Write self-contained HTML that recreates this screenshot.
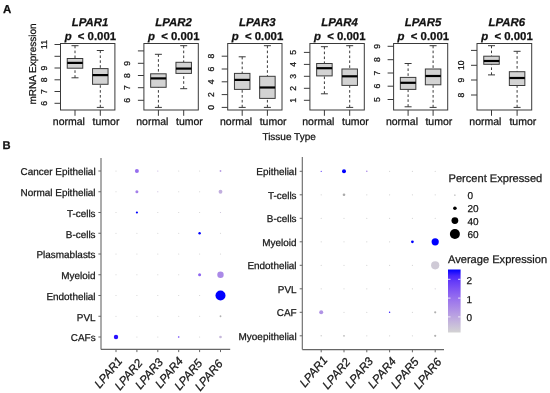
<!DOCTYPE html>
<html><head><meta charset="utf-8"><style>
html,body{margin:0;padding:0;background:#fff;width:550px;height:393px;overflow:hidden}
svg{display:block;font-family:"Liberation Sans", sans-serif;text-rendering:geometricPrecision;will-change:transform}
text{stroke:#111;stroke-width:0.25px}
</style></head><body>
<svg width="550" height="393" viewBox="0 0 550 393">
<rect width="550" height="393" fill="#fff"/>
<text x="3.1" y="12.9" font-size="11.5" font-weight="bold" fill="#111">A</text>
<text x="2.6" y="148.8" font-size="11.2" font-weight="bold" fill="#111">B</text>
<text transform="translate(36.1,64) rotate(-90)" text-anchor="middle" font-size="10" fill="#111">mRNA Expression</text>
<text x="289.1" y="140.2" text-anchor="middle" font-size="10" fill="#111">Tissue Type</text>
<text x="90.10" y="26.4" text-anchor="middle" font-size="11.4" font-weight="bold" font-style="italic" fill="#111">LPAR1</text>
<text x="90.40" y="39.6" text-anchor="middle" font-size="11.4" font-weight="bold" fill="#111"><tspan font-style="italic">p</tspan><tspan dx="3"> &lt; 0.001</tspan></text>
<rect x="60.50" y="43.5" width="54.40" height="66.50" fill="none" stroke="#3a3a3a" stroke-width="1"/>
<line x1="75.00" y1="110.0" x2="75.00" y2="115.8" stroke="#3a3a3a" stroke-width="1"/>
<line x1="100.30" y1="110.0" x2="100.30" y2="115.8" stroke="#3a3a3a" stroke-width="1"/>
<text x="68.90" y="124.6" text-anchor="middle" font-size="10.5" fill="#111">normal</text>
<text x="106.00" y="124.6" text-anchor="middle" font-size="10.5" fill="#111">tumor</text>
<line x1="54.50" y1="44.5" x2="60.50" y2="44.5" stroke="#3a3a3a" stroke-width="1"/>
<text transform="translate(47.00,44.5) rotate(-90)" text-anchor="middle" font-size="8.6" fill="#111">11</text>
<line x1="54.50" y1="56.3" x2="60.50" y2="56.3" stroke="#3a3a3a" stroke-width="1"/>
<line x1="54.50" y1="68.0" x2="60.50" y2="68.0" stroke="#3a3a3a" stroke-width="1"/>
<text transform="translate(47.00,68.0) rotate(-90)" text-anchor="middle" font-size="8.6" fill="#111">9</text>
<line x1="54.50" y1="79.8" x2="60.50" y2="79.8" stroke="#3a3a3a" stroke-width="1"/>
<text transform="translate(47.00,79.8) rotate(-90)" text-anchor="middle" font-size="8.6" fill="#111">8</text>
<line x1="54.50" y1="91.5" x2="60.50" y2="91.5" stroke="#3a3a3a" stroke-width="1"/>
<text transform="translate(47.00,91.5) rotate(-90)" text-anchor="middle" font-size="8.6" fill="#111">7</text>
<line x1="54.50" y1="103.3" x2="60.50" y2="103.3" stroke="#3a3a3a" stroke-width="1"/>
<text transform="translate(47.00,103.3) rotate(-90)" text-anchor="middle" font-size="8.6" fill="#111">6</text>
<line x1="75.00" y1="45.7" x2="75.00" y2="58.5" stroke="#3a3a3a" stroke-width="1" stroke-dasharray="2.6 2.3"/>
<line x1="75.00" y1="77.8" x2="75.00" y2="68.2" stroke="#3a3a3a" stroke-width="1" stroke-dasharray="2.6 2.3"/>
<line x1="71.50" y1="45.7" x2="78.50" y2="45.7" stroke="#3a3a3a" stroke-width="1"/>
<line x1="71.50" y1="77.8" x2="78.50" y2="77.8" stroke="#3a3a3a" stroke-width="1"/>
<rect x="67.25" y="58.5" width="15.5" height="9.70" fill="#d3d3d3" stroke="#3a3a3a" stroke-width="1"/>
<line x1="67.25" y1="62.9" x2="82.75" y2="62.9" stroke="#000" stroke-width="2.2"/>
<line x1="100.30" y1="50.5" x2="100.30" y2="68.6" stroke="#3a3a3a" stroke-width="1" stroke-dasharray="2.6 2.3"/>
<line x1="100.30" y1="107.4" x2="100.30" y2="84.3" stroke="#3a3a3a" stroke-width="1" stroke-dasharray="2.6 2.3"/>
<line x1="96.80" y1="50.5" x2="103.80" y2="50.5" stroke="#3a3a3a" stroke-width="1"/>
<line x1="96.80" y1="107.4" x2="103.80" y2="107.4" stroke="#3a3a3a" stroke-width="1"/>
<rect x="92.55" y="68.6" width="15.5" height="15.70" fill="#d3d3d3" stroke="#3a3a3a" stroke-width="1"/>
<line x1="92.55" y1="75.1" x2="108.05" y2="75.1" stroke="#000" stroke-width="2.2"/>
<text x="173.50" y="26.4" text-anchor="middle" font-size="11.4" font-weight="bold" font-style="italic" fill="#111">LPAR2</text>
<text x="173.80" y="39.6" text-anchor="middle" font-size="11.4" font-weight="bold" fill="#111"><tspan font-style="italic">p</tspan><tspan dx="3"> &lt; 0.001</tspan></text>
<rect x="143.90" y="43.5" width="54.40" height="66.50" fill="none" stroke="#3a3a3a" stroke-width="1"/>
<line x1="158.40" y1="110.0" x2="158.40" y2="115.8" stroke="#3a3a3a" stroke-width="1"/>
<line x1="183.70" y1="110.0" x2="183.70" y2="115.8" stroke="#3a3a3a" stroke-width="1"/>
<text x="152.30" y="124.6" text-anchor="middle" font-size="10.5" fill="#111">normal</text>
<text x="189.40" y="124.6" text-anchor="middle" font-size="10.5" fill="#111">tumor</text>
<line x1="137.90" y1="50.9" x2="143.90" y2="50.9" stroke="#3a3a3a" stroke-width="1"/>
<line x1="137.90" y1="63.3" x2="143.90" y2="63.3" stroke="#3a3a3a" stroke-width="1"/>
<text transform="translate(130.40,63.3) rotate(-90)" text-anchor="middle" font-size="8.6" fill="#111">9</text>
<line x1="137.90" y1="75.5" x2="143.90" y2="75.5" stroke="#3a3a3a" stroke-width="1"/>
<text transform="translate(130.40,75.5) rotate(-90)" text-anchor="middle" font-size="8.6" fill="#111">8</text>
<line x1="137.90" y1="87.7" x2="143.90" y2="87.7" stroke="#3a3a3a" stroke-width="1"/>
<text transform="translate(130.40,87.7) rotate(-90)" text-anchor="middle" font-size="8.6" fill="#111">7</text>
<line x1="137.90" y1="100.3" x2="143.90" y2="100.3" stroke="#3a3a3a" stroke-width="1"/>
<text transform="translate(130.40,100.3) rotate(-90)" text-anchor="middle" font-size="8.6" fill="#111">6</text>
<line x1="158.40" y1="54.3" x2="158.40" y2="73.8" stroke="#3a3a3a" stroke-width="1" stroke-dasharray="2.6 2.3"/>
<line x1="158.40" y1="107.4" x2="158.40" y2="87.3" stroke="#3a3a3a" stroke-width="1" stroke-dasharray="2.6 2.3"/>
<line x1="154.90" y1="54.3" x2="161.90" y2="54.3" stroke="#3a3a3a" stroke-width="1"/>
<line x1="154.90" y1="107.4" x2="161.90" y2="107.4" stroke="#3a3a3a" stroke-width="1"/>
<rect x="150.65" y="73.8" width="15.5" height="13.50" fill="#d3d3d3" stroke="#3a3a3a" stroke-width="1"/>
<line x1="150.65" y1="78.4" x2="166.15" y2="78.4" stroke="#000" stroke-width="2.2"/>
<line x1="183.70" y1="45.7" x2="183.70" y2="62.3" stroke="#3a3a3a" stroke-width="1" stroke-dasharray="2.6 2.3"/>
<line x1="183.70" y1="88.7" x2="183.70" y2="73.4" stroke="#3a3a3a" stroke-width="1" stroke-dasharray="2.6 2.3"/>
<line x1="180.20" y1="45.7" x2="187.20" y2="45.7" stroke="#3a3a3a" stroke-width="1"/>
<line x1="180.20" y1="88.7" x2="187.20" y2="88.7" stroke="#3a3a3a" stroke-width="1"/>
<rect x="175.95" y="62.3" width="15.5" height="11.10" fill="#d3d3d3" stroke="#3a3a3a" stroke-width="1"/>
<line x1="175.95" y1="68.6" x2="191.45" y2="68.6" stroke="#000" stroke-width="2.2"/>
<text x="257.25" y="26.4" text-anchor="middle" font-size="11.4" font-weight="bold" font-style="italic" fill="#111">LPAR3</text>
<text x="257.55" y="39.6" text-anchor="middle" font-size="11.4" font-weight="bold" fill="#111"><tspan font-style="italic">p</tspan><tspan dx="3"> &lt; 0.001</tspan></text>
<rect x="227.70" y="43.5" width="54.30" height="66.50" fill="none" stroke="#3a3a3a" stroke-width="1"/>
<line x1="242.20" y1="110.0" x2="242.20" y2="115.8" stroke="#3a3a3a" stroke-width="1"/>
<line x1="267.40" y1="110.0" x2="267.40" y2="115.8" stroke="#3a3a3a" stroke-width="1"/>
<text x="236.10" y="124.6" text-anchor="middle" font-size="10.5" fill="#111">normal</text>
<text x="273.10" y="124.6" text-anchor="middle" font-size="10.5" fill="#111">tumor</text>
<line x1="221.70" y1="56.2" x2="227.70" y2="56.2" stroke="#3a3a3a" stroke-width="1"/>
<text transform="translate(214.20,56.2) rotate(-90)" text-anchor="middle" font-size="8.6" fill="#111">8</text>
<line x1="221.70" y1="69.0" x2="227.70" y2="69.0" stroke="#3a3a3a" stroke-width="1"/>
<text transform="translate(214.20,69.0) rotate(-90)" text-anchor="middle" font-size="8.6" fill="#111">6</text>
<line x1="221.70" y1="81.8" x2="227.70" y2="81.8" stroke="#3a3a3a" stroke-width="1"/>
<text transform="translate(214.20,81.8) rotate(-90)" text-anchor="middle" font-size="8.6" fill="#111">4</text>
<line x1="221.70" y1="94.6" x2="227.70" y2="94.6" stroke="#3a3a3a" stroke-width="1"/>
<text transform="translate(214.20,94.6) rotate(-90)" text-anchor="middle" font-size="8.6" fill="#111">2</text>
<line x1="221.70" y1="107.4" x2="227.70" y2="107.4" stroke="#3a3a3a" stroke-width="1"/>
<text transform="translate(214.20,107.4) rotate(-90)" text-anchor="middle" font-size="8.6" fill="#111">0</text>
<line x1="242.20" y1="56.8" x2="242.20" y2="73.4" stroke="#3a3a3a" stroke-width="1" stroke-dasharray="2.6 2.3"/>
<line x1="242.20" y1="107.4" x2="242.20" y2="89.4" stroke="#3a3a3a" stroke-width="1" stroke-dasharray="2.6 2.3"/>
<line x1="238.70" y1="56.8" x2="245.70" y2="56.8" stroke="#3a3a3a" stroke-width="1"/>
<line x1="238.70" y1="107.4" x2="245.70" y2="107.4" stroke="#3a3a3a" stroke-width="1"/>
<rect x="234.45" y="73.4" width="15.5" height="16.00" fill="#d3d3d3" stroke="#3a3a3a" stroke-width="1"/>
<line x1="234.45" y1="79.9" x2="249.95" y2="79.9" stroke="#000" stroke-width="2.2"/>
<line x1="267.40" y1="45.7" x2="267.40" y2="76.3" stroke="#3a3a3a" stroke-width="1" stroke-dasharray="2.6 2.3"/>
<line x1="267.40" y1="107.4" x2="267.40" y2="98.4" stroke="#3a3a3a" stroke-width="1" stroke-dasharray="2.6 2.3"/>
<line x1="263.90" y1="45.7" x2="270.90" y2="45.7" stroke="#3a3a3a" stroke-width="1"/>
<line x1="263.90" y1="107.4" x2="270.90" y2="107.4" stroke="#3a3a3a" stroke-width="1"/>
<rect x="259.65" y="76.3" width="15.5" height="22.10" fill="#d3d3d3" stroke="#3a3a3a" stroke-width="1"/>
<line x1="259.65" y1="87.5" x2="275.15" y2="87.5" stroke="#000" stroke-width="2.2"/>
<text x="339.50" y="26.4" text-anchor="middle" font-size="11.4" font-weight="bold" font-style="italic" fill="#111">LPAR4</text>
<text x="339.80" y="39.6" text-anchor="middle" font-size="11.4" font-weight="bold" fill="#111"><tspan font-style="italic">p</tspan><tspan dx="3"> &lt; 0.001</tspan></text>
<rect x="309.90" y="43.5" width="54.40" height="66.50" fill="none" stroke="#3a3a3a" stroke-width="1"/>
<line x1="324.40" y1="110.0" x2="324.40" y2="115.8" stroke="#3a3a3a" stroke-width="1"/>
<line x1="349.70" y1="110.0" x2="349.70" y2="115.8" stroke="#3a3a3a" stroke-width="1"/>
<text x="318.30" y="124.6" text-anchor="middle" font-size="10.5" fill="#111">normal</text>
<text x="355.40" y="124.6" text-anchor="middle" font-size="10.5" fill="#111">tumor</text>
<line x1="303.90" y1="52.4" x2="309.90" y2="52.4" stroke="#3a3a3a" stroke-width="1"/>
<text transform="translate(296.40,52.4) rotate(-90)" text-anchor="middle" font-size="8.6" fill="#111">5</text>
<line x1="303.90" y1="64.4" x2="309.90" y2="64.4" stroke="#3a3a3a" stroke-width="1"/>
<text transform="translate(296.40,64.4) rotate(-90)" text-anchor="middle" font-size="8.6" fill="#111">4</text>
<line x1="303.90" y1="76.3" x2="309.90" y2="76.3" stroke="#3a3a3a" stroke-width="1"/>
<text transform="translate(296.40,76.3) rotate(-90)" text-anchor="middle" font-size="8.6" fill="#111">3</text>
<line x1="303.90" y1="88.3" x2="309.90" y2="88.3" stroke="#3a3a3a" stroke-width="1"/>
<text transform="translate(296.40,88.3) rotate(-90)" text-anchor="middle" font-size="8.6" fill="#111">2</text>
<line x1="303.90" y1="100.3" x2="309.90" y2="100.3" stroke="#3a3a3a" stroke-width="1"/>
<text transform="translate(296.40,100.3) rotate(-90)" text-anchor="middle" font-size="8.6" fill="#111">1</text>
<line x1="324.40" y1="46.7" x2="324.40" y2="63.5" stroke="#3a3a3a" stroke-width="1" stroke-dasharray="2.6 2.3"/>
<line x1="324.40" y1="93.8" x2="324.40" y2="75.9" stroke="#3a3a3a" stroke-width="1" stroke-dasharray="2.6 2.3"/>
<line x1="320.90" y1="46.7" x2="327.90" y2="46.7" stroke="#3a3a3a" stroke-width="1"/>
<line x1="320.90" y1="93.8" x2="327.90" y2="93.8" stroke="#3a3a3a" stroke-width="1"/>
<rect x="316.65" y="63.5" width="15.5" height="12.40" fill="#d3d3d3" stroke="#3a3a3a" stroke-width="1"/>
<line x1="316.65" y1="68.2" x2="332.15" y2="68.2" stroke="#000" stroke-width="2.2"/>
<line x1="349.70" y1="45.7" x2="349.70" y2="69.0" stroke="#3a3a3a" stroke-width="1" stroke-dasharray="2.6 2.3"/>
<line x1="349.70" y1="107.4" x2="349.70" y2="85.4" stroke="#3a3a3a" stroke-width="1" stroke-dasharray="2.6 2.3"/>
<line x1="346.20" y1="45.7" x2="353.20" y2="45.7" stroke="#3a3a3a" stroke-width="1"/>
<line x1="346.20" y1="107.4" x2="353.20" y2="107.4" stroke="#3a3a3a" stroke-width="1"/>
<rect x="341.95" y="69.0" width="15.5" height="16.40" fill="#d3d3d3" stroke="#3a3a3a" stroke-width="1"/>
<line x1="341.95" y1="76.3" x2="357.45" y2="76.3" stroke="#000" stroke-width="2.2"/>
<text x="423.05" y="26.4" text-anchor="middle" font-size="11.4" font-weight="bold" font-style="italic" fill="#111">LPAR5</text>
<text x="423.35" y="39.6" text-anchor="middle" font-size="11.4" font-weight="bold" fill="#111"><tspan font-style="italic">p</tspan><tspan dx="3"> &lt; 0.001</tspan></text>
<rect x="393.60" y="43.5" width="54.10" height="66.50" fill="none" stroke="#3a3a3a" stroke-width="1"/>
<line x1="408.10" y1="110.0" x2="408.10" y2="115.8" stroke="#3a3a3a" stroke-width="1"/>
<line x1="433.10" y1="110.0" x2="433.10" y2="115.8" stroke="#3a3a3a" stroke-width="1"/>
<text x="402.00" y="124.6" text-anchor="middle" font-size="10.5" fill="#111">normal</text>
<text x="438.80" y="124.6" text-anchor="middle" font-size="10.5" fill="#111">tumor</text>
<line x1="387.60" y1="46.3" x2="393.60" y2="46.3" stroke="#3a3a3a" stroke-width="1"/>
<text transform="translate(380.10,46.3) rotate(-90)" text-anchor="middle" font-size="8.6" fill="#111">9</text>
<line x1="387.60" y1="59.7" x2="393.60" y2="59.7" stroke="#3a3a3a" stroke-width="1"/>
<text transform="translate(380.10,59.7) rotate(-90)" text-anchor="middle" font-size="8.6" fill="#111">8</text>
<line x1="387.60" y1="73.0" x2="393.60" y2="73.0" stroke="#3a3a3a" stroke-width="1"/>
<text transform="translate(380.10,73.0) rotate(-90)" text-anchor="middle" font-size="8.6" fill="#111">7</text>
<line x1="387.60" y1="86.2" x2="393.60" y2="86.2" stroke="#3a3a3a" stroke-width="1"/>
<text transform="translate(380.10,86.2) rotate(-90)" text-anchor="middle" font-size="8.6" fill="#111">6</text>
<line x1="387.60" y1="99.5" x2="393.60" y2="99.5" stroke="#3a3a3a" stroke-width="1"/>
<text transform="translate(380.10,99.5) rotate(-90)" text-anchor="middle" font-size="8.6" fill="#111">5</text>
<line x1="408.10" y1="63.5" x2="408.10" y2="77.4" stroke="#3a3a3a" stroke-width="1" stroke-dasharray="2.6 2.3"/>
<line x1="408.10" y1="106.8" x2="408.10" y2="89.4" stroke="#3a3a3a" stroke-width="1" stroke-dasharray="2.6 2.3"/>
<line x1="404.60" y1="63.5" x2="411.60" y2="63.5" stroke="#3a3a3a" stroke-width="1"/>
<line x1="404.60" y1="106.8" x2="411.60" y2="106.8" stroke="#3a3a3a" stroke-width="1"/>
<rect x="400.35" y="77.4" width="15.5" height="12.00" fill="#d3d3d3" stroke="#3a3a3a" stroke-width="1"/>
<line x1="400.35" y1="82.8" x2="415.85" y2="82.8" stroke="#000" stroke-width="2.2"/>
<line x1="433.10" y1="45.7" x2="433.10" y2="69.0" stroke="#3a3a3a" stroke-width="1" stroke-dasharray="2.6 2.3"/>
<line x1="433.10" y1="107.4" x2="433.10" y2="84.8" stroke="#3a3a3a" stroke-width="1" stroke-dasharray="2.6 2.3"/>
<line x1="429.60" y1="45.7" x2="436.60" y2="45.7" stroke="#3a3a3a" stroke-width="1"/>
<line x1="429.60" y1="107.4" x2="436.60" y2="107.4" stroke="#3a3a3a" stroke-width="1"/>
<rect x="425.35" y="69.0" width="15.5" height="15.80" fill="#d3d3d3" stroke="#3a3a3a" stroke-width="1"/>
<line x1="425.35" y1="76.0" x2="440.85" y2="76.0" stroke="#000" stroke-width="2.2"/>
<text x="506.75" y="26.4" text-anchor="middle" font-size="11.4" font-weight="bold" font-style="italic" fill="#111">LPAR6</text>
<text x="507.05" y="39.6" text-anchor="middle" font-size="11.4" font-weight="bold" fill="#111"><tspan font-style="italic">p</tspan><tspan dx="3"> &lt; 0.001</tspan></text>
<rect x="477.00" y="43.5" width="54.70" height="66.50" fill="none" stroke="#3a3a3a" stroke-width="1"/>
<line x1="491.50" y1="110.0" x2="491.50" y2="115.8" stroke="#3a3a3a" stroke-width="1"/>
<line x1="517.10" y1="110.0" x2="517.10" y2="115.8" stroke="#3a3a3a" stroke-width="1"/>
<text x="485.40" y="124.6" text-anchor="middle" font-size="10.5" fill="#111">normal</text>
<text x="522.80" y="124.6" text-anchor="middle" font-size="10.5" fill="#111">tumor</text>
<line x1="471.00" y1="50.4" x2="477.00" y2="50.4" stroke="#3a3a3a" stroke-width="1"/>
<line x1="471.00" y1="65.3" x2="477.00" y2="65.3" stroke="#3a3a3a" stroke-width="1"/>
<text transform="translate(463.50,65.3) rotate(-90)" text-anchor="middle" font-size="8.6" fill="#111">10</text>
<line x1="471.00" y1="80.0" x2="477.00" y2="80.0" stroke="#3a3a3a" stroke-width="1"/>
<text transform="translate(463.50,80.0) rotate(-90)" text-anchor="middle" font-size="8.6" fill="#111">9</text>
<line x1="471.00" y1="95.0" x2="477.00" y2="95.0" stroke="#3a3a3a" stroke-width="1"/>
<text transform="translate(463.50,95.0) rotate(-90)" text-anchor="middle" font-size="8.6" fill="#111">8</text>
<line x1="491.50" y1="45.7" x2="491.50" y2="56.2" stroke="#3a3a3a" stroke-width="1" stroke-dasharray="2.6 2.3"/>
<line x1="491.50" y1="74.9" x2="491.50" y2="64.3" stroke="#3a3a3a" stroke-width="1" stroke-dasharray="2.6 2.3"/>
<line x1="488.00" y1="45.7" x2="495.00" y2="45.7" stroke="#3a3a3a" stroke-width="1"/>
<line x1="488.00" y1="74.9" x2="495.00" y2="74.9" stroke="#3a3a3a" stroke-width="1"/>
<rect x="483.75" y="56.2" width="15.5" height="8.10" fill="#d3d3d3" stroke="#3a3a3a" stroke-width="1"/>
<line x1="483.75" y1="61.0" x2="499.25" y2="61.0" stroke="#000" stroke-width="2.2"/>
<line x1="517.10" y1="51.3" x2="517.10" y2="71.7" stroke="#3a3a3a" stroke-width="1" stroke-dasharray="2.6 2.3"/>
<line x1="517.10" y1="107.4" x2="517.10" y2="85.5" stroke="#3a3a3a" stroke-width="1" stroke-dasharray="2.6 2.3"/>
<line x1="513.60" y1="51.3" x2="520.60" y2="51.3" stroke="#3a3a3a" stroke-width="1"/>
<line x1="513.60" y1="107.4" x2="520.60" y2="107.4" stroke="#3a3a3a" stroke-width="1"/>
<rect x="509.35" y="71.7" width="15.5" height="13.80" fill="#d3d3d3" stroke="#3a3a3a" stroke-width="1"/>
<line x1="509.35" y1="78.0" x2="524.85" y2="78.0" stroke="#000" stroke-width="2.2"/>
<line x1="101.0" y1="157.9" x2="101.0" y2="349.4" stroke="#666" stroke-width="1.1"/>
<line x1="101.0" y1="349.4" x2="230.2" y2="349.4" stroke="#666" stroke-width="1.1"/>
<line x1="98.40" y1="171.00" x2="101.0" y2="171.00" stroke="#666" stroke-width="1"/>
<text x="95.6" y="175.40" text-anchor="end" font-size="9.95" fill="#1a1a1a">Cancer Epithelial</text>
<line x1="98.40" y1="191.75" x2="101.0" y2="191.75" stroke="#666" stroke-width="1"/>
<text x="95.6" y="196.15" text-anchor="end" font-size="9.95" fill="#1a1a1a">Normal Epithelial</text>
<line x1="98.40" y1="212.50" x2="101.0" y2="212.50" stroke="#666" stroke-width="1"/>
<text x="95.6" y="216.90" text-anchor="end" font-size="9.95" fill="#1a1a1a">T-cells</text>
<line x1="98.40" y1="233.25" x2="101.0" y2="233.25" stroke="#666" stroke-width="1"/>
<text x="95.6" y="237.65" text-anchor="end" font-size="9.95" fill="#1a1a1a">B-cells</text>
<line x1="98.40" y1="254.00" x2="101.0" y2="254.00" stroke="#666" stroke-width="1"/>
<text x="95.6" y="258.40" text-anchor="end" font-size="9.95" fill="#1a1a1a">Plasmablasts</text>
<line x1="98.40" y1="274.75" x2="101.0" y2="274.75" stroke="#666" stroke-width="1"/>
<text x="95.6" y="279.15" text-anchor="end" font-size="9.95" fill="#1a1a1a">Myeloid</text>
<line x1="98.40" y1="295.50" x2="101.0" y2="295.50" stroke="#666" stroke-width="1"/>
<text x="95.6" y="299.90" text-anchor="end" font-size="9.95" fill="#1a1a1a">Endothelial</text>
<line x1="98.40" y1="316.25" x2="101.0" y2="316.25" stroke="#666" stroke-width="1"/>
<text x="95.6" y="320.65" text-anchor="end" font-size="9.95" fill="#1a1a1a">PVL</text>
<line x1="98.40" y1="337.00" x2="101.0" y2="337.00" stroke="#666" stroke-width="1"/>
<text x="95.6" y="341.40" text-anchor="end" font-size="9.95" fill="#1a1a1a">CAFs</text>
<line x1="116.00" y1="349.4" x2="116.00" y2="352.10" stroke="#666" stroke-width="1"/>
<text transform="translate(123.00,361.20) scale(1,1.0) rotate(-50)" text-anchor="end" font-size="11.7" font-style="italic" fill="#1a1a1a">LPAR1</text>
<line x1="136.90" y1="349.4" x2="136.90" y2="352.10" stroke="#666" stroke-width="1"/>
<text transform="translate(143.20,363.20) scale(1,1.0) rotate(-50)" text-anchor="end" font-size="11.7" font-style="italic" fill="#1a1a1a">LPAR2</text>
<line x1="157.80" y1="349.4" x2="157.80" y2="352.10" stroke="#666" stroke-width="1"/>
<text transform="translate(163.70,362.40) scale(1,1.0) rotate(-50)" text-anchor="end" font-size="11.7" font-style="italic" fill="#1a1a1a">LPAR3</text>
<line x1="178.70" y1="349.4" x2="178.70" y2="352.10" stroke="#666" stroke-width="1"/>
<text transform="translate(183.70,361.20) scale(1,1.0) rotate(-50)" text-anchor="end" font-size="11.7" font-style="italic" fill="#1a1a1a">LPAR4</text>
<line x1="199.60" y1="349.4" x2="199.60" y2="352.10" stroke="#666" stroke-width="1"/>
<text transform="translate(203.00,363.40) scale(1,1.0) rotate(-50)" text-anchor="end" font-size="11.7" font-style="italic" fill="#1a1a1a">LPAR5</text>
<line x1="220.50" y1="349.4" x2="220.50" y2="352.10" stroke="#666" stroke-width="1"/>
<text transform="translate(223.40,364.00) scale(1,1.0) rotate(-50)" text-anchor="end" font-size="11.7" font-style="italic" fill="#1a1a1a">LPAR6</text>
<circle cx="116.00" cy="171.00" r="0.6" fill="#d3d3d3"/>
<circle cx="136.90" cy="171.00" r="2.0" fill="#966eee"/>
<circle cx="157.80" cy="171.00" r="0.6" fill="#c1aede"/>
<circle cx="178.70" cy="171.00" r="0.6" fill="#d3d3d3"/>
<circle cx="199.60" cy="171.00" r="0.6" fill="#d3d3d3"/>
<circle cx="220.50" cy="171.00" r="0.9" fill="#b69ce3"/>
<circle cx="116.00" cy="191.75" r="0.6" fill="#d3d3d3"/>
<circle cx="136.90" cy="191.75" r="1.5" fill="#a480ea"/>
<circle cx="157.80" cy="191.75" r="0.6" fill="#c6b7db"/>
<circle cx="178.70" cy="191.75" r="0.6" fill="#d3d3d3"/>
<circle cx="199.60" cy="191.75" r="0.6" fill="#d3d3d3"/>
<circle cx="220.50" cy="191.75" r="1.9" fill="#c1aede"/>
<circle cx="116.00" cy="212.50" r="0.6" fill="#d3d3d3"/>
<circle cx="136.90" cy="212.50" r="1.1" fill="#0000ff"/>
<circle cx="157.80" cy="212.50" r="0.6" fill="#d3d3d3"/>
<circle cx="178.70" cy="212.50" r="0.6" fill="#d3d3d3"/>
<circle cx="199.60" cy="212.50" r="0.6" fill="#d3d3d3"/>
<circle cx="220.50" cy="212.50" r="0.6" fill="#cac1d9"/>
<circle cx="116.00" cy="233.25" r="0.6" fill="#d3d3d3"/>
<circle cx="136.90" cy="233.25" r="0.6" fill="#d3d3d3"/>
<circle cx="157.80" cy="233.25" r="0.6" fill="#d3d3d3"/>
<circle cx="178.70" cy="233.25" r="0.6" fill="#d3d3d3"/>
<circle cx="199.60" cy="233.25" r="1.2" fill="#0000ff"/>
<circle cx="220.50" cy="233.25" r="0.6" fill="#d3d3d3"/>
<circle cx="116.00" cy="254.00" r="0.6" fill="#d3d3d3"/>
<circle cx="136.90" cy="254.00" r="0.6" fill="#d3d3d3"/>
<circle cx="157.80" cy="254.00" r="0.6" fill="#d3d3d3"/>
<circle cx="178.70" cy="254.00" r="0.6" fill="#d3d3d3"/>
<circle cx="199.60" cy="254.00" r="0.6" fill="#d3d3d3"/>
<circle cx="220.50" cy="254.00" r="0.6" fill="#d3d3d3"/>
<circle cx="116.00" cy="274.75" r="0.6" fill="#d3d3d3"/>
<circle cx="136.90" cy="274.75" r="0.6" fill="#d3d3d3"/>
<circle cx="157.80" cy="274.75" r="0.6" fill="#d3d3d3"/>
<circle cx="178.70" cy="274.75" r="0.6" fill="#d3d3d3"/>
<circle cx="199.60" cy="274.75" r="1.5" fill="#8e65f0"/>
<circle cx="220.50" cy="274.75" r="3.2" fill="#aa89e7"/>
<circle cx="116.00" cy="295.50" r="0.6" fill="#d3d3d3"/>
<circle cx="136.90" cy="295.50" r="0.6" fill="#d3d3d3"/>
<circle cx="157.80" cy="295.50" r="0.6" fill="#d3d3d3"/>
<circle cx="178.70" cy="295.50" r="0.6" fill="#d3d3d3"/>
<circle cx="199.60" cy="295.50" r="0.6" fill="#d3d3d3"/>
<circle cx="220.50" cy="295.50" r="5.0" fill="#0000ff"/>
<circle cx="116.00" cy="316.25" r="0.6" fill="#d3d3d3"/>
<circle cx="136.90" cy="316.25" r="0.6" fill="#d3d3d3"/>
<circle cx="157.80" cy="316.25" r="0.6" fill="#d3d3d3"/>
<circle cx="178.70" cy="316.25" r="0.6" fill="#d3d3d3"/>
<circle cx="199.60" cy="316.25" r="0.6" fill="#d3d3d3"/>
<circle cx="220.50" cy="316.25" r="0.9" fill="#b0b0b0"/>
<circle cx="116.00" cy="337.00" r="2.2" fill="#2710fe"/>
<circle cx="136.90" cy="337.00" r="0.6" fill="#d3d3d3"/>
<circle cx="157.80" cy="337.00" r="0.6" fill="#d3d3d3"/>
<circle cx="178.70" cy="337.00" r="0.8" fill="#673df8"/>
<circle cx="199.60" cy="337.00" r="0.6" fill="#d3d3d3"/>
<circle cx="220.50" cy="337.00" r="1.3" fill="#c6b7db"/>
<line x1="302.3" y1="156.9" x2="302.3" y2="349.6" stroke="#666" stroke-width="1.1"/>
<line x1="302.3" y1="349.6" x2="444.0" y2="349.6" stroke="#666" stroke-width="1.1"/>
<line x1="299.70" y1="171.30" x2="302.3" y2="171.30" stroke="#666" stroke-width="1"/>
<text x="296.6" y="175.20" text-anchor="end" font-size="9.95" fill="#1a1a1a">Epithelial</text>
<line x1="299.70" y1="194.80" x2="302.3" y2="194.80" stroke="#666" stroke-width="1"/>
<text x="296.6" y="198.70" text-anchor="end" font-size="9.95" fill="#1a1a1a">T-cells</text>
<line x1="299.70" y1="218.30" x2="302.3" y2="218.30" stroke="#666" stroke-width="1"/>
<text x="296.6" y="222.20" text-anchor="end" font-size="9.95" fill="#1a1a1a">B-cells</text>
<line x1="299.70" y1="241.80" x2="302.3" y2="241.80" stroke="#666" stroke-width="1"/>
<text x="296.6" y="245.70" text-anchor="end" font-size="9.95" fill="#1a1a1a">Myeloid</text>
<line x1="299.70" y1="265.30" x2="302.3" y2="265.30" stroke="#666" stroke-width="1"/>
<text x="296.6" y="269.20" text-anchor="end" font-size="9.95" fill="#1a1a1a">Endothelial</text>
<line x1="299.70" y1="288.80" x2="302.3" y2="288.80" stroke="#666" stroke-width="1"/>
<text x="296.6" y="292.70" text-anchor="end" font-size="9.95" fill="#1a1a1a">PVL</text>
<line x1="299.70" y1="312.30" x2="302.3" y2="312.30" stroke="#666" stroke-width="1"/>
<text x="296.6" y="316.20" text-anchor="end" font-size="9.95" fill="#1a1a1a">CAF</text>
<line x1="299.70" y1="335.80" x2="302.3" y2="335.80" stroke="#666" stroke-width="1"/>
<text x="296.6" y="339.70" text-anchor="end" font-size="9.95" fill="#1a1a1a">Myoepithelial</text>
<line x1="321.20" y1="349.6" x2="321.20" y2="352.30" stroke="#666" stroke-width="1"/>
<text transform="translate(328.20,360.20) scale(1,1.0) rotate(-50)" text-anchor="end" font-size="11.7" font-style="italic" fill="#1a1a1a">LPAR1</text>
<line x1="344.00" y1="349.6" x2="344.00" y2="352.30" stroke="#666" stroke-width="1"/>
<text transform="translate(351.00,362.20) scale(1,1.0) rotate(-50)" text-anchor="end" font-size="11.7" font-style="italic" fill="#1a1a1a">LPAR2</text>
<line x1="366.80" y1="349.6" x2="366.80" y2="352.30" stroke="#666" stroke-width="1"/>
<text transform="translate(373.80,361.40) scale(1,1.0) rotate(-50)" text-anchor="end" font-size="11.7" font-style="italic" fill="#1a1a1a">LPAR3</text>
<line x1="389.60" y1="349.6" x2="389.60" y2="352.30" stroke="#666" stroke-width="1"/>
<text transform="translate(396.60,361.50) scale(1,1.0) rotate(-50)" text-anchor="end" font-size="11.7" font-style="italic" fill="#1a1a1a">LPAR4</text>
<line x1="412.40" y1="349.6" x2="412.40" y2="352.30" stroke="#666" stroke-width="1"/>
<text transform="translate(419.40,361.90) scale(1,1.0) rotate(-50)" text-anchor="end" font-size="11.7" font-style="italic" fill="#1a1a1a">LPAR5</text>
<line x1="435.20" y1="349.6" x2="435.20" y2="352.30" stroke="#666" stroke-width="1"/>
<text transform="translate(442.20,362.20) scale(1,1.0) rotate(-50)" text-anchor="end" font-size="11.7" font-style="italic" fill="#1a1a1a">LPAR6</text>
<circle cx="321.20" cy="171.30" r="0.6" fill="#4926fb"/>
<circle cx="344.00" cy="171.30" r="2.0" fill="#0000ff"/>
<circle cx="366.80" cy="171.30" r="0.8" fill="#aa89e7"/>
<circle cx="389.60" cy="171.30" r="0.6" fill="#d3d3d3"/>
<circle cx="412.40" cy="171.30" r="0.6" fill="#d3d3d3"/>
<circle cx="435.20" cy="171.30" r="0.6" fill="#d3d3d3"/>
<circle cx="321.20" cy="194.80" r="0.6" fill="#d3d3d3"/>
<circle cx="344.00" cy="194.80" r="1.3" fill="#aaaaaa"/>
<circle cx="366.80" cy="194.80" r="0.6" fill="#d3d3d3"/>
<circle cx="389.60" cy="194.80" r="0.6" fill="#d3d3d3"/>
<circle cx="412.40" cy="194.80" r="0.6" fill="#d3d3d3"/>
<circle cx="435.20" cy="194.80" r="0.6" fill="#d3d3d3"/>
<circle cx="321.20" cy="218.30" r="0.6" fill="#d3d3d3"/>
<circle cx="344.00" cy="218.30" r="0.6" fill="#d3d3d3"/>
<circle cx="366.80" cy="218.30" r="0.6" fill="#d3d3d3"/>
<circle cx="389.60" cy="218.30" r="0.6" fill="#d3d3d3"/>
<circle cx="412.40" cy="218.30" r="0.6" fill="#d3d3d3"/>
<circle cx="435.20" cy="218.30" r="0.6" fill="#d3d3d3"/>
<circle cx="321.20" cy="241.80" r="0.6" fill="#d3d3d3"/>
<circle cx="344.00" cy="241.80" r="0.6" fill="#d3d3d3"/>
<circle cx="366.80" cy="241.80" r="0.6" fill="#d3d3d3"/>
<circle cx="389.60" cy="241.80" r="0.6" fill="#d3d3d3"/>
<circle cx="412.40" cy="241.80" r="1.4" fill="#0000ff"/>
<circle cx="435.20" cy="241.80" r="3.6" fill="#0000ff"/>
<circle cx="321.20" cy="265.30" r="0.6" fill="#d3d3d3"/>
<circle cx="344.00" cy="265.30" r="0.6" fill="#d3d3d3"/>
<circle cx="366.80" cy="265.30" r="0.6" fill="#d3d3d3"/>
<circle cx="389.60" cy="265.30" r="0.6" fill="#d3d3d3"/>
<circle cx="412.40" cy="265.30" r="0.6" fill="#d3d3d3"/>
<circle cx="435.20" cy="265.30" r="4.1" fill="#cfcad6"/>
<circle cx="321.20" cy="288.80" r="0.6" fill="#d3d3d3"/>
<circle cx="344.00" cy="288.80" r="0.6" fill="#d3d3d3"/>
<circle cx="366.80" cy="288.80" r="0.6" fill="#d3d3d3"/>
<circle cx="389.60" cy="288.80" r="0.6" fill="#d3d3d3"/>
<circle cx="412.40" cy="288.80" r="0.6" fill="#d3d3d3"/>
<circle cx="435.20" cy="288.80" r="0.6" fill="#cfcad6"/>
<circle cx="321.20" cy="312.30" r="2.0" fill="#b093e5"/>
<circle cx="344.00" cy="312.30" r="0.6" fill="#d3d3d3"/>
<circle cx="366.80" cy="312.30" r="0.6" fill="#d3d3d3"/>
<circle cx="389.60" cy="312.30" r="0.7" fill="#3318fd"/>
<circle cx="412.40" cy="312.30" r="0.6" fill="#d3d3d3"/>
<circle cx="435.20" cy="312.30" r="1.1" fill="#b0b0b0"/>
<circle cx="321.20" cy="335.80" r="0.7" fill="#cccccc"/>
<circle cx="344.00" cy="335.80" r="0.9" fill="#bbbbbb"/>
<circle cx="366.80" cy="335.80" r="0.6" fill="#d3d3d3"/>
<circle cx="389.60" cy="335.80" r="0.6" fill="#d3d3d3"/>
<circle cx="412.40" cy="335.80" r="0.6" fill="#d3d3d3"/>
<circle cx="435.20" cy="335.80" r="1.1" fill="#b0b0b0"/>
<text x="448.5" y="182" font-size="11.1" fill="#1a1a1a">Percent Expressed</text>
<circle cx="454.9" cy="195.1" r="0.6" fill="#888"/>
<text x="467.5" y="199.10" font-size="10" fill="#1a1a1a">0</text>
<circle cx="454.9" cy="208.3" r="1.8" fill="#000"/>
<text x="467.5" y="212.30" font-size="10" fill="#1a1a1a">20</text>
<circle cx="454.9" cy="220.6" r="3.4" fill="#000"/>
<text x="467.5" y="224.60" font-size="10" fill="#1a1a1a">40</text>
<circle cx="454.9" cy="234.0" r="5.0" fill="#000"/>
<text x="467.5" y="238.00" font-size="10" fill="#1a1a1a">60</text>
<text x="448" y="262.6" font-size="11.1" fill="#1a1a1a">Average Expression</text>
<defs><linearGradient id="g" x1="0" y1="1" x2="0" y2="0"><stop offset="0.0" stop-color="#d3d3d3"/><stop offset="0.1" stop-color="#cac1d9"/><stop offset="0.2" stop-color="#c1aede"/><stop offset="0.3" stop-color="#b69ce3"/><stop offset="0.4" stop-color="#aa89e7"/><stop offset="0.5" stop-color="#9d77ec"/><stop offset="0.6" stop-color="#8e65f0"/><stop offset="0.7" stop-color="#7c51f4"/><stop offset="0.8" stop-color="#673df8"/><stop offset="0.9" stop-color="#4926fb"/><stop offset="1.0" stop-color="#0000ff"/></linearGradient></defs>
<rect x="448" y="269.5" width="12.6" height="63" fill="url(#g)"/>
<line x1="448" y1="279.3" x2="450.5" y2="279.3" stroke="#fff" stroke-width="0.8"/>
<line x1="458.1" y1="279.3" x2="460.6" y2="279.3" stroke="#fff" stroke-width="0.8"/>
<text x="466.4" y="283.70" font-size="10" fill="#1a1a1a">2</text>
<line x1="448" y1="298.1" x2="450.5" y2="298.1" stroke="#fff" stroke-width="0.8"/>
<line x1="458.1" y1="298.1" x2="460.6" y2="298.1" stroke="#fff" stroke-width="0.8"/>
<text x="466.4" y="302.50" font-size="10" fill="#1a1a1a">1</text>
<line x1="448" y1="316.9" x2="450.5" y2="316.9" stroke="#fff" stroke-width="0.8"/>
<line x1="458.1" y1="316.9" x2="460.6" y2="316.9" stroke="#fff" stroke-width="0.8"/>
<text x="466.4" y="321.30" font-size="10" fill="#1a1a1a">0</text>
</svg>
</body></html>
